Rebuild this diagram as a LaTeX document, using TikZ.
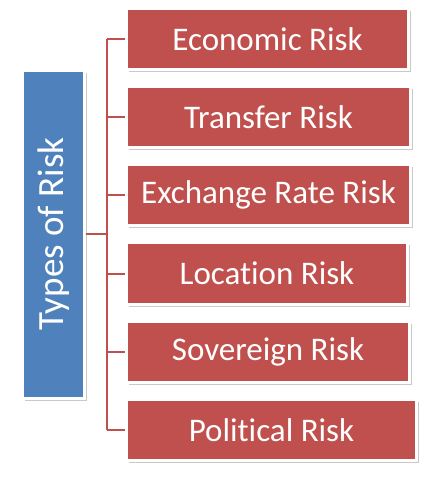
\documentclass[tikz,border=0pt]{standalone}
\usepackage{fontspec}
\setmainfont[Ligatures=NoCommon]{Carlito}
\usetikzlibrary{shadows,backgrounds}
\definecolor{riskred}{HTML}{C0504D}
\definecolor{riskblue}{HTML}{4F81BD}
\tikzset{
  boxshadow/.style={drop shadow={shadow xshift=2.5pt, shadow yshift=-2.5pt, opacity=0.35, fill=black!60}},
  riskbox/.style={boxshadow, fill=riskred, draw=white, line width=3pt, inner sep=0pt, outer sep=0pt,
    text=white, font=\fontsize{33}{38}\selectfont, minimum height=61pt},
  rootbox/.style={boxshadow, fill=riskblue, draw=white, line width=3pt, inner sep=0pt, outer sep=0pt,
    text=white, font=\fontsize{37}{42}\selectfont},
  link/.style={draw=riskred, line width=2pt}
}
\begin{document}
\begin{tikzpicture}[x=1pt,y=1pt]
\useasboundingbox (0,0) rectangle (445,-477);
\node[rootbox, minimum width=62pt, minimum height=328pt] (root) at (53.5,-234) {};
\node[rotate=90, text=white, font=\fontsize{37}{42}\selectfont] (roottext) at (53.5,-234) {Types of Risk};
\node[riskbox, minimum width=282pt] (b1) at (267.5,-39) {Economic Risk};
\node[riskbox, minimum width=284pt] (b2) at (268.5,-117) {Transfer Risk};
\node[riskbox, minimum width=284pt] (b3) at (268.5,-195) {Exchange Rate Risk};
\node[riskbox, minimum width=281pt, minimum height=62pt] (b4) at (267,-273.5) {Location Risk};
\node[riskbox, minimum width=283pt] (b5) at (268,-352) {Sovereign Risk};
\node[riskbox, minimum width=290pt] (b6) at (271.5,-430) {Political Risk};
\coordinate (bus) at (107,-234);
\begin{scope}[on background layer]
\fill[white] (0,0) rectangle (445,-477);
\draw[link] (root.east |- bus) -- (bus);
\draw[link] (bus |- b1.west) -- (bus |- b6.west);
\foreach \b in {b1,b2,b3,b4,b5,b6} {
  \draw[link] (bus |- \b.west) -- (\b.west);
}
\end{scope}
\end{tikzpicture}
\end{document}
